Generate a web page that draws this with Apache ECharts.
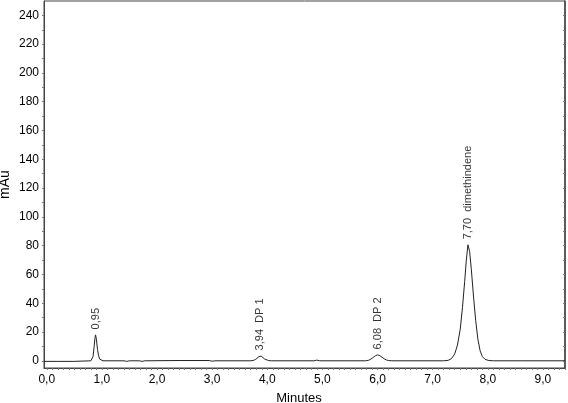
<!DOCTYPE html>
<html>
<head>
<meta charset="utf-8">
<script src="https://cdn.jsdelivr.net/npm/echarts@6/dist/echarts.min.js"></script>
<style>
html,body{margin:0;padding:0;background:#fff;}
#c{width:568px;height:403px;}
</style>
</head>
<body>
<div id="c"></div>
<script>
// Chromatogram trace (minutes, mAu)
var times = [
  -0.05, 0.20, 0.49, 0.50, 0.80, 0.82, 0.84, 0.86, 0.875, 0.885, 0.90, 0.92, 0.94, 0.96, 0.98, 1.02,
  1.40, 1.45, 1.50, 1.68, 1.73, 1.78, 2.40, 2.95, 3.00, 3.05,
  3.70, 3.75, 3.79, 3.82, 3.85, 3.87, 3.89, 3.92, 3.95, 3.98, 4.02, 4.08,
  4.85, 4.90, 4.95, 5.50, 5.78, 5.84, 5.88, 5.92, 5.96, 6.00, 6.04, 6.08, 6.12, 6.16, 6.20, 6.26,
  7.20, 7.28, 7.34, 7.40, 7.45, 7.50, 7.54, 7.58, 7.61, 7.64, 7.67, 7.70, 7.74, 7.78, 7.82, 7.86, 7.90, 7.95, 8.02, 8.10,
  8.60, 9.40
];
var mAu = [
  -0.4, -0.4, -0.4, 0.0, 0.0, 0.5, 3.0, 10.0, 16.0, 18.0, 15.0, 8.0, 3.5, 1.2, 0.4, 0.0,
  0.0, -0.4, 0.0, 0.0, -0.4, 0.0, 0.2, 0.2, -0.3, 0.0,
  0.0, 0.3, 1.0, 2.0, 3.0, 3.4, 3.2, 2.3, 1.3, 0.6, 0.2, 0.0,
  0.0, 0.5, 0.0, 0.0, 0.0, 0.4, 1.2, 2.3, 3.5, 4.1, 3.6, 2.5, 1.4, 0.6, 0.2, 0.0,
  0.0, 0.3, 1.5, 4.8, 11.0, 22.0, 37.0, 55.0, 70.0, 80.6, 76.0, 64.0, 45.0, 28.0, 15.0, 7.0, 3.0, 1.0, 0.2, 0.0,
  0.0, 0.0
];
// Peak annotations
var peakTimes = [0.885, 3.87, 6.00, 7.64];
var peakHeights = [18.0, 3.4, 4.1, 80.6];
var peakLabels = ['0,95', '3,94  DP 1', '6,08  DP 2', '7,70  dimethindene'];
// Axis ticks / labels
var xLabelValues = [0, 1, 2, 3, 4, 5, 6, 7, 8, 9];
var yLabelValues = [0, 20, 40, 60, 80, 100, 120, 140, 160, 180, 200, 220, 240];

var xMinorTicks = [];
for (var i = 0; i <= 94; i++) xMinorTicks.push(+(i / 10).toFixed(1));
var yMinorTicks = [];
for (var j = 0; j <= 240; j += 10) yMinorTicks.push(j);

var trace = times.map(function (t, k) { return [t, mAu[k]]; });
var peaks = peakTimes.map(function (t, k) { return { value: [t, peakHeights[k]], name: peakLabels[k] }; });

var FONT = 'Liberation Sans, Arial, Helvetica, sans-serif';
var chart = echarts.init(document.getElementById('c'));
chart.setOption({
  animation: false,
  backgroundColor: '#fff',
  textStyle: { fontFamily: FONT },
  grid: { left: 44, right: 3, top: 1, bottom: 35, show: true, borderColor: '#444', borderWidth: 1, outerBoundsMode: 'none', containLabel: false },
  xAxis: {
    type: 'value', min: -0.05, max: 9.4,
    name: 'Minutes', nameLocation: 'middle', nameGap: 24, nameMoveOverlap: false,
    nameTextStyle: { fontSize: 13, color: '#000', fontFamily: FONT, padding: [0, 11, 0, 0] },
    axisLine: { show: true, onZero: false, lineStyle: { color: '#444', width: 1 } },
    axisTick: { show: true, customValues: xMinorTicks, length: 2, lineStyle: { color: '#777' } },
    axisLabel: { customValues: xLabelValues, fontSize: 12, color: '#000', margin: 6, fontFamily: FONT,
      formatter: function (v) { return v.toFixed(1).replace('.', ','); } },
    splitLine: { show: false }
  },
  yAxis: [{
    type: 'value', min: -5, max: 250,
    name: 'mAu', nameLocation: 'middle', nameGap: 32, nameMoveOverlap: false,
    nameTextStyle: { fontSize: 14, color: '#000', fontFamily: FONT },
    axisLine: { show: true, onZero: false, lineStyle: { color: '#444', width: 1 } },
    axisTick: { show: true, customValues: yMinorTicks, length: 2, lineStyle: { color: '#777' } },
    axisLabel: { customValues: yLabelValues, fontSize: 12, color: '#000', margin: 5, fontFamily: FONT },
    splitLine: { show: false }
  }, {
    type: 'value', min: -5, max: 250, position: 'right',
    axisLine: { show: true, onZero: false, lineStyle: { color: '#444', width: 1.5 } },
    axisTick: { show: true, inside: true, customValues: yMinorTicks, length: 2, lineStyle: { color: '#777' } },
    axisLabel: { show: false },
    splitLine: { show: false }
  }],
  series: [{
    type: 'line', data: trace, showSymbol: false, symbol: 'none',
    lineStyle: { color: '#222', width: 1 }, z: 3
  }, {
    type: 'scatter', data: peaks, symbol: 'circle', symbolSize: 1,
    itemStyle: { color: 'rgba(0,0,0,0)' },
    label: {
      show: true, position: 'top', distance: 5, rotate: 90, align: 'left', verticalAlign: 'middle',
      fontSize: 11, color: '#000', fontFamily: FONT,
      formatter: function (p) { return p.name; }
    }, z: 4
  }]
});
</script>
</body>
</html>
